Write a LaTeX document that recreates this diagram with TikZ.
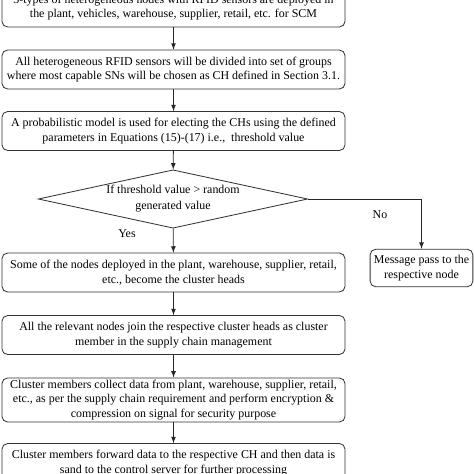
\documentclass[tikz,border=0pt]{standalone}
\usepackage{fontspec}
\setmainfont{Liberation Serif}
\usetikzlibrary{shapes.geometric}

\tikzset{
  stepbox/.style={draw=black!80,line width=0.6pt,rounded corners=4pt,align=center,
    minimum width=247pt,minimum height=28pt,inner xsep=1pt,inner ysep=0.5pt,
    font=\fontsize{8.6}{10.4}\selectfont},
  msgbox/.style={stepbox,minimum width=74pt,minimum height=27pt},
  decbox/.style={draw=black!80,line width=0.6pt,diamond,aspect=4.65,align=center,inner sep=0pt,
    minimum width=194pt,minimum height=42pt,font=\fontsize{8.6}{11.5}\selectfont},
  arr/.style={->,>=latex,line width=0.6pt,black!85}
}

\begin{document}
\begin{tikzpicture}[x=0.72pt,y=-0.72pt]
        \useasboundingbox (0,0) rectangle (474,474);
        \clip (0,0) rectangle (474,474);
        \node[stepbox] (deploy) at (173.5,7.5) {3-types of heterogeneous nodes with RFID sensors are deployed in\\ the plant, vehicles, warehouse, supplier, retail, etc. for SCM};
        \node[stepbox] (group) at (173.5,69.5) {All heterogeneous RFID sensors will be divided into set of groups\\ where most capable SNs will be chosen as CH defined in Section 3.1.};
        \node[stepbox] (prob) at (173.5,131) {A probabilistic model is used for electing the CHs using the defined\\ parameters in Equations (15)-(17) i.e.,\ \ threshold value};
        \node[decbox] (thr) at (173,199) {If threshold value > random\\ generated value};
        \node[stepbox] (heads) at (173.5,272.5) {Some of the nodes deployed in the plant, warehouse, supplier, retail,\\ etc., become the cluster heads};
        \node[msgbox] (msg) at (421.5,268) {Message pass to the\\ respective node};
        \node[stepbox] (join) at (173.5,335) {All the relevant nodes join the respective cluster heads as cluster\\ member in the supply chain management};
        \node[stepbox,minimum height=31.7pt] (collect) at (173.5,400) {Cluster members collect data from plant, warehouse, supplier, retail,\\ etc., as per the supply chain requirement and perform encryption \&\\ compression on signal for security purpose};
        \node[stepbox] (fwd) at (173.5,463) {Cluster members forward data to the respective CH and then data is\\ sand to the control server for further processing};
        \node[font=\fontsize{8.6}{10.4}\selectfont] (no) at (380,215) {No};
        \node[font=\fontsize{8.6}{10.4}\selectfont] (yes) at (127,234) {Yes};

        \draw[arr] (deploy) -- (group);
        \draw[arr] (group) -- (prob);
        \draw[arr] (prob) -- (thr);
        \draw[arr] (thr) -- (heads);
        \draw[arr] (thr.east) -| (msg.north);
        \draw[arr] (heads) -- (join);
        \draw[arr] (join) -- (collect);
        \draw[arr] (collect) -- (fwd);
      \end{tikzpicture}
\end{document}
